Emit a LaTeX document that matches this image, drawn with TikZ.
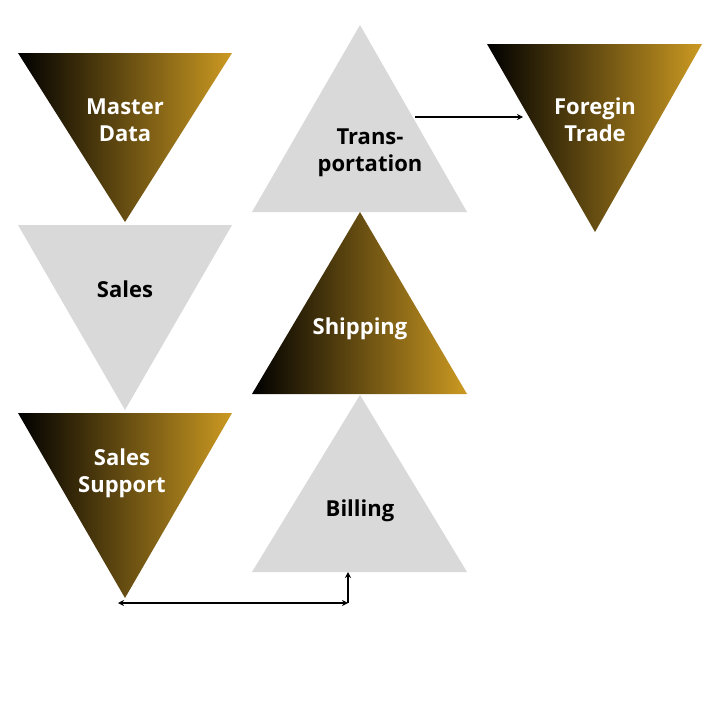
\documentclass[tikz,border=0pt]{standalone}
\usepackage{fontspec}
\setmainfont{Open Sans}
\usetikzlibrary{arrows.meta}
\begin{document}
\begin{tikzpicture}[x=1pt,y=-1pt,
  lbl/.style={font=\bfseries\fontsize{22}{27}\selectfont,align=center},
  gold/.style={left color=black,right color=gold1,draw=none},
  grey/.style={fill=grey1,draw=none},
  arr/.style={-{Stealth[length=6pt,width=6pt]},line width=1.3pt},
  arr2/.style={{Stealth[length=6pt,width=6pt]}-{Stealth[length=6pt,width=6pt]},line width=1.3pt}]
\definecolor{gold1}{HTML}{CC9A22}
\definecolor{grey1}{HTML}{D9D9D9}
\fill[white] (0,0) rectangle (720,720);
\useasboundingbox (0,0) rectangle (720,720);
% down triangles
\shade[gold] (18,53) -- (232,53) -- (125,222) -- cycle;
\fill[grey] (18,225) -- (232,225) -- (125,410) -- cycle;
\shade[gold] (18,413) -- (232,413) -- (125,598) -- cycle;
\shade[gold] (487,44) -- (702,44) -- (595,232) -- cycle;
% up triangles
\fill[grey] (360,25) -- (467,212) -- (252,212) -- cycle;
\shade[gold] (360,212) -- (467,394) -- (252,394) -- cycle;
\fill[grey] (360,395) -- (467,572) -- (252,572) -- cycle;
\node[lbl,text=white] (md) at (125,120) {Master\\Data};
\node[lbl] (sa) at (125,289) {Sales};
\node[lbl,text=white] (ss) at (122,473) {Sales\\Support};
\node[lbl,text=white] (ft) at (595,120) {Foregin\\Trade};
\node[lbl] (tr) at (370,153) {Trans-\\portation};
\node[lbl,text=white] (sh) at (360,329) {Shipping};
\node[lbl] (bi) at (360,511) {Billing};
\coordinate (a1) at (415,117);
\coordinate (a2) at (523,117);
\coordinate (b1) at (118,603);
\coordinate (b2) at (348,603);
\coordinate (b3) at (348,572);
\draw[arr] (a1) -- (a2);
\draw[arr2] (b1) -- (b2);
\draw[arr] (b2) -- (b3);
\end{tikzpicture}
\end{document}
